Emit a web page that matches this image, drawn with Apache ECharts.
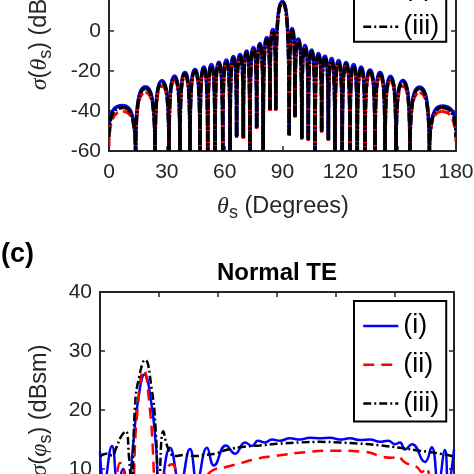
<!DOCTYPE html>
<html>
<head>
<meta charset="utf-8">
<title>RCS patterns</title>
<script src="https://cdn.jsdelivr.net/npm/echarts@6/dist/echarts.min.js"></script>
<style>
  html, body { margin: 0; padding: 0; background: #fff; }
  #main { width: 474px; height: 474px; }
</style>
</head>
<body>
<div id="main"></div>
<script>
// upper panel: sigma(theta_s), read lobe by lobe (nulls that run off the floor put just under -60)
var thetaNulls = [13.8, 23.9, 31.1, 36.8, 42.0, 47.2, 51.2, 55.0, 59.0, 62.8, 66.2, 69.7, 73.1, 76.6, 80.0, 83.5, 86.5,
    93.5, 96.5, 100.0, 103.4, 106.9, 110.3, 113.8, 117.2, 121.0, 125.0, 128.8, 132.8, 138.0, 143.2, 148.9, 156.1, 166.2];
var thetaPeaks = [7.4, 18.9, 27.5, 34.0, 39.4, 44.6, 49.2, 53.1, 57.0, 60.9, 64.5, 68.0, 71.4, 74.9, 78.3, 81.8, 85.0,
    90.0,
    95.0, 98.2, 101.7, 105.1, 108.6, 112.0, 115.5, 119.1, 123.0, 126.9, 130.8, 135.4, 140.6, 146.0, 152.5, 161.1, 172.6];
var peakI = [-37.3, -27.9, -24.9, -22.5, -20.7, -19.3, -18.0, -16.8, -15.6, -14.5, -12.8, -11.7, -10.0, -8.3, -6.2, -3.3, 0.8,
    14.7,
    1.3, -4.0, -7.2, -9.5, -11.2, -12.6, -13.8, -14.8, -15.7, -16.8, -18.0, -19.5, -20.8, -22.6, -24.8, -28.0, -37.5];
var peakII = [-40.2, -30.8, -27.6, -25.0, -22.9, -21.4, -20.0, -18.7, -17.4, -16.2, -14.4, -13.2, -11.5, -9.7, -7.5, -4.5, -0.3,
    14.0,
    0.2, -5.2, -8.6, -10.9, -12.7, -14.2, -15.5, -16.6, -17.6, -18.8, -20.1, -21.8, -23.2, -25.2, -27.6, -30.9, -40.3];
var peakIII = [-38.2, -28.8, -25.7, -23.3, -21.5, -20.1, -18.8, -17.6, -16.4, -15.3, -13.6, -12.5, -10.8, -9.1, -7.0, -4.1, 0.0,
    14.2,
    0.5, -4.8, -8.0, -10.3, -12.0, -13.4, -14.6, -15.6, -16.5, -17.6, -18.8, -20.3, -21.6, -23.4, -25.6, -28.8, -38.3];
var nullI = [-63, -63, -63, -63, -63, -63, -63, -63, -63, -63, -52.5, -53, -63, -48, -63, -39, -39,
    -51.5, -42.3, -53.2, -54, -63, -49.8, -54, -63, -63, -63, -63, -63, -63, -63, -63, -63, -63];
var nullII = [-63, -63, -63, -63, -63, -63, -63, -63, -63, -63, -53.5, -54, -63, -49, -63, -40, -40,
    -52.5, -43.3, -54.2, -55, -63, -50.8, -55, -63, -63, -63, -63, -63, -63, -63, -63, -63, -63];
var nullIII = [-63, -63, -63, -63, -63, -63, -63, -63, -63, -63, -53, -53.5, -63, -48.5, -63, -39.5, -39.5,
    -52, -42.8, -53.7, -54.5, -63, -50.3, -54.5, -63, -63, -63, -63, -63, -63, -63, -63, -63, -63];
var edgeI = [-50, -50];
var edgeII = [-58, -58];
var edgeIII = [-53, -53];

// lower panel (c): Normal TE, sigma(phi_s)
var phiI = [[0, 13.0], [4.1, 7.5], [12.2, 13.9], [18.3, 7.5], [23.4, 10], [28.5, 6], [33.6, 14], [38.6, 21.5],
    [45.3, 26.0], [51.9, 21.5], [56.9, 14], [61.0, 6], [71.2, 13.6], [81.4, 7.5], [91.5, 13.4], [98.6, 8],
    [108.8, 13.6], [115.9, 10.6], [128.1, 14.0], [137.3, 12.6], [147.5, 14.5], [154.6, 13.9], [160.7, 14.8],
    [167.8, 14.5], [174.9, 15.0], [183.1, 14.8], [193.2, 15.2], [203.4, 15.0], [213.6, 15.3], [223.7, 15.2],
    [233.9, 15.3], [244.1, 15.0], [254.2, 15.2], [264.4, 14.9], [274.6, 15.0], [284.7, 14.6], [292.9, 14.8],
    [300.0, 14.2], [305.1, 14.5], [310.2, 13.3], [317.3, 14.2], [330.5, 11.2], [337.3, 13.7], [344.0, 7.5],
    [350.8, 13.2], [354.2, 7.5], [360, 13.3]];
var phiII = [[0, 7.5], [8.1, 9], [14.2, 7.5], [20.3, 11], [26.4, 8], [31.5, 5], [37.6, 19], [44.5, 26.8],
    [50.8, 20], [59.0, 5], [65.1, 9], [73.2, 10.8], [81.4, 8.5], [96.6, 7.5], [114.9, 9.8], [127.1, 10.3],
    [147.5, 11.2], [160.7, 11.8], [178.0, 12.2], [211.5, 12.9], [237.0, 13.1], [269.5, 12.9], [286.8, 12.1],
    [297.0, 11.9], [302.0, 12.2], [310.2, 11.1], [322.4, 10.3], [327.5, 9.5], [331.5, 10.2], [337.6, 8],
    [350.8, 7], [360, 7.5]];
var phiIII = [[0, 12.1], [6.1, 12.6], [12.2, 12.3], [16.3, 13.5], [21.4, 15.5], [26.1, 16.4], [29.5, 12],
    [32.2, 6], [35.6, 20.7], [39.7, 25.5], [45.8, 28.5], [52.6, 23.5], [56.5, 17], [59.8, 6], [64.4, 16.4],
    [69.5, 13.4], [76.3, 12.2], [86.4, 12.4], [96.6, 12.2], [106.8, 12.4], [116.9, 12.6], [130.2, 13.3],
    [147.5, 13.8], [162.7, 14.0], [183.1, 14.3], [203.4, 14.5], [223.7, 14.6], [244.1, 14.5], [264.4, 14.3],
    [284.7, 14.0], [305.1, 13.6], [325.4, 13.1], [345.8, 12.6], [360, 12.1]];

var names = ['(i)', '(ii)', '(iii)'];
var colors = ['#0000ff', '#ff0000', '#000000'];
var dashes = ['solid', [11, 7], [8, 3, 2, 3]];
var topDashes = [null, [9, 5], [10, 2, 2, 2]];
var axisColor = '#262626';
var sans = 'Liberation Sans';

function lobeSeries(peaks, nulls, edge) {
    var d = [[0, edge[0]]];
    for (var i = 0; i < peaks.length; i++) {
        d.push([thetaPeaks[i], peaks[i]]);
        if (i < nulls.length) d.push([thetaNulls[i], nulls[i]]);
    }
    d.push([180, edge[1]]);
    return d;
}

// each half lobe: steep out of the null, rounded over the peak
function lobeLine(k, pts, w) {
    return {
        name: names[k],
        type: 'custom',
        xAxisIndex: 0,
        yAxisIndex: 0,
        clip: true,
        data: pts,
        encode: { x: 0, y: 1 },
        renderItem: function (params, api) {
            var i = params.dataIndex;
            if (i === 0) return null;
            var a = api.coord(pts[i - 1]);
            var b = api.coord(pts[i]);
            var up = pts[i][1] > pts[i - 1][1];
            var n = up ? a : b, p = up ? b : a;
            var cn = [n[0], n[1] + 0.85 * (p[1] - n[1])];
            var cp = [n[0] + 0.42 * (p[0] - n[0]), p[1]];
            var c1 = up ? cn : cp, c2 = up ? cp : cn;
            return {
                type: 'bezierCurve',
                shape: { x1: a[0], y1: a[1], x2: b[0], y2: b[1], cpx1: c1[0], cpy1: c1[1], cpx2: c2[0], cpy2: c2[1] },
                style: { stroke: colors[k], lineWidth: w, lineDash: topDashes[k], fill: 'none' }
            };
        }
    };
}

function mkLine(k, data, w) {
    return {
        name: names[k],
        type: 'line',
        xAxisIndex: 2,
        yAxisIndex: 2,
        data: data,
        smooth: true,
        symbol: 'none',
        clip: true,
        lineStyle: { color: colors[k], width: w, type: dashes[k] },
        itemStyle: { color: colors[k] }
    };
}

function mkAxis(grid, pos, min, max, step, labels, margin) {
    return {
        type: 'value',
        gridIndex: grid,
        position: pos,
        min: min,
        max: max,
        interval: step,
        axisLine: { show: true, onZero: false, lineStyle: { color: axisColor, width: 2 } },
        axisTick: { show: true, inside: true, length: 5, lineStyle: { color: axisColor, width: 1.5 } },
        axisLabel: { show: labels, color: axisColor, fontSize: 21, fontFamily: sans, margin: margin },
        splitLine: { show: false }
    };
}

function mkLegend(top, pad) {
    return {
        data: names,
        orient: 'vertical',
        left: 354,
        top: top,
        itemWidth: 35,
        itemHeight: 14,
        itemGap: 8.7,
        padding: pad,
        borderColor: '#000',
        borderWidth: 2,
        backgroundColor: '#fff',
        itemStyle: { opacity: 0 },
        lineStyle: { width: 2.5 },
        textStyle: { fontSize: 27, lineHeight: 30, color: '#000', fontFamily: sans }
    };
}

var greek = { fontFamily: 'Liberation Serif', fontStyle: 'italic', fontSize: 24, fill: axisColor };
var plain = { fontFamily: sans, fontSize: 23.5, fill: axisColor };
var sub = { fontFamily: sans, fontSize: 18, fill: axisColor, padding: [12, 0, 0, 0] };

var myChart = echarts.init(document.getElementById('main'));
var option = {
    animation: false,
    backgroundColor: '#fff',
    title: [{
        text: 'Normal TE',
        left: 277,
        top: 261,
        textAlign: 'center',
        padding: 0,
        textStyle: { fontSize: 24, fontWeight: 'bold', color: '#000', fontFamily: sans, lineHeight: 24 }
    }, {
        text: '(c)',
        left: 1,
        top: 241,
        padding: 0,
        textStyle: { fontSize: 27, fontWeight: 'bold', color: '#000', fontFamily: sans, lineHeight: 27 }
    }],
    grid: [
        { left: 109, top: -9, width: 347, height: 160, outerBoundsMode: 'none', containLabel: false },
        { left: 100, top: 292, width: 354, height: 236, outerBoundsMode: 'none', containLabel: false }
    ],
    xAxis: [
        mkAxis(0, 'bottom', 0, 180, 30, true, 11),
        mkAxis(0, 'top', 0, 180, 30, false, 8),
        mkAxis(1, 'bottom', 0, 360, 60, true, 11),
        mkAxis(1, 'top', 0, 360, 60, false, 8)
    ],
    yAxis: [
        mkAxis(0, 'left', -60, 20, 20, true, 8),
        mkAxis(0, 'right', -60, 20, 20, false, 8),
        mkAxis(1, 'left', 0, 40, 10, true, 8),
        mkAxis(1, 'right', 0, 40, 10, false, 8)
    ],
    legend: [
        mkLegend(-75.7, [10, 7, 0, 8]),
        mkLegend(301, [10, 7, 3, 8])
    ],
    graphic: [{
        type: 'text',
        x: 40,
        y: 25,
        rotation: Math.PI / 2,
        style: {
            text: '{g|σ}{n|(}{g|θ}{s|s}{n|) (dBsm)}',
            align: 'center',
            verticalAlign: 'middle',
            rich: { g: greek, n: plain, s: sub }
        }
    }, {
        type: 'text',
        x: 283,
        y: 207,
        style: {
            text: '{g|θ}{s|s}{n| (Degrees)}',
            align: 'center',
            verticalAlign: 'middle',
            rich: { g: greek, n: plain, s: sub }
        }
    }, {
        type: 'text',
        x: 40,
        y: 410.5,
        rotation: Math.PI / 2,
        style: {
            text: '{g|σ}{n|(}{g|φ}{s|s}{n|) (dBsm)}',
            align: 'center',
            verticalAlign: 'middle',
            rich: { g: greek, n: plain, s: sub }
        }
    }],
    series: [
        // lower panel first so the legends take their line samples
        mkLine(0, phiI, 2.5),
        mkLine(1, phiII, 2.5),
        mkLine(2, phiIII, 2.5),
        lobeLine(0, lobeSeries(peakI, nullI, edgeI), 3.5),
        lobeLine(1, lobeSeries(peakII, nullII, edgeII), 3),
        lobeLine(2, lobeSeries(peakIII, nullIII, edgeIII), 3.5)
    ]
};
myChart.setOption(option);
</script>
</body>
</html>
